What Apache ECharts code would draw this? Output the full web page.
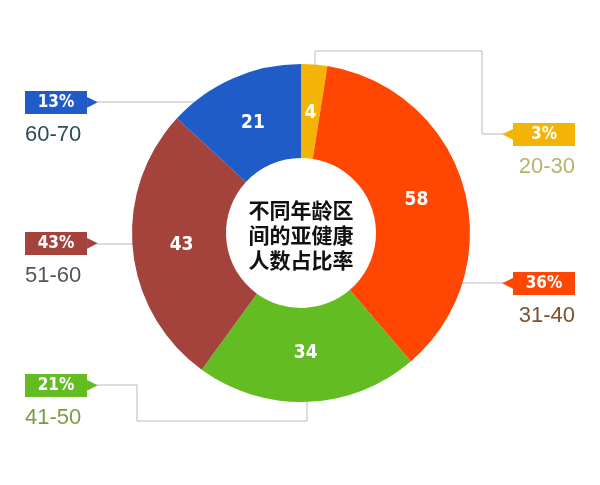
<!DOCTYPE html>
<html>
<head>
<meta charset="utf-8">
<script src="https://cdn.jsdelivr.net/npm/echarts@6/dist/echarts.min.js"></script>
<style>
  html, body { margin: 0; padding: 0; background: #fff; }
  #chart { width: 600px; height: 485px; }
</style>
</head>
<body>
<div id="chart"></div>
<script>
// age groups, clockwise from the top
const ageGroups = ['20-30', '31-40', '41-50', '51-60', '60-70'];
const counts = [4, 58, 34, 43, 21];
const percentLabels = ['3%', '36%', '21%', '43%', '13%'];
const sliceColors = ['#f4b406', '#ff4603', '#63bd22', '#a4433b', '#1f5cc8'];
const ageColors = ['#b4b66c', '#7b5232', '#7d9b45', '#555555', '#2f4a58'];
const centerTitle = '不同年龄区\n间的亚健康\n人数占比率';

// where each tag sits and how its leader line runs
const tagLayout = [
  { side: 'right', x: 575, y: 123, line: [[315, 66], [315, 51], [482, 51], [482, 134], [507, 134]] },
  { side: 'right', x: 575, y: 272, line: [[462, 283], [507, 283]] },
  { side: 'left', x: 25, y: 374, line: [[307, 401], [307, 421], [137, 421], [137, 385], [97, 385]] },
  { side: 'left', x: 25, y: 232, line: [[133, 244], [97, 244]] },
  { side: 'left', x: 25, y: 91, line: [[194, 102], [97, 102]] }
];

const narrow = '"Liberation Sans Narrow", "DejaVu Sans Condensed", sans-serif';

let rich = {};
ageGroups.forEach((g, i) => {
  rich['b' + i] = {
    backgroundColor: sliceColors[i], color: '#fff', fontFamily: narrow,
    fontWeight: 'bold', fontSize: 17, width: 62, height: 23, lineHeight: 23, align: 'center'
  };
  rich['a' + i] = { color: sliceColors[i], fontFamily: 'DejaVu Sans', fontSize: 14, lineHeight: 23 };
  rich['t' + i] = { color: ageColors[i], fontFamily: '"Liberation Sans", Arial, sans-serif', fontSize: 22, lineHeight: 42 };
});

const chart = echarts.init(document.getElementById('chart'));

const option = {
  backgroundColor: '#fff',
  animation: false,
  graphic: [{
    type: 'text',
    x: 301, y: 235,
    style: {
      text: centerTitle,
      align: 'center', verticalAlign: 'middle',
      fill: '#111',
      font: 'bold 21px "Noto Sans CJK SC"',
      lineHeight: 25
    }
  }],
  series: [
    {
      type: 'pie',
      center: [301, 233],
      radius: [75, 169],
      startAngle: 90,
      clockwise: true,
      avoidLabelOverlap: false,
      silent: true,
      color: sliceColors,
      data: ageGroups.map((g, i) => ({ name: g, value: counts[i] })),
      label: {
        show: true,
        position: 'outside',
        formatter: p => {
          const i = p.dataIndex;
          if (tagLayout[i].side === 'left') {
            return `{b${i}|${percentLabels[i]}}{a${i}|▶}\n{t${i}|${ageGroups[i]}}`;
          }
          return `{a${i}|◀}{b${i}|${percentLabels[i]}}\n{t${i}|${ageGroups[i]}}`;
        },
        rich: rich
      },
      labelLine: { show: true, lineStyle: { color: '#b9b9b9', width: 1 } },
      labelLayout: p => {
        const t = tagLayout[p.dataIndex];
        return {
          x: t.x, y: t.y,
          align: t.side === 'left' ? 'left' : 'right',
          verticalAlign: 'top',
          labelLinePoints: t.line
        };
      }
    },
    {
      // transparent copy, only carries the value labels a bit nearer the hole
      type: 'pie',
      center: [301, 233],
      radius: [65, 169],
      startAngle: 90,
      clockwise: true,
      silent: true,
      itemStyle: { color: 'rgba(0,0,0,0)' },
      data: ageGroups.map((g, i) => ({ name: g, value: counts[i] })),
      label: {
        show: true,
        position: 'inside',
        formatter: '{c}',
        color: '#fff',
        fontFamily: narrow,
        fontWeight: 'bold',
        fontSize: 19
      },
      labelLine: { show: false }
    }
  ]
};

option && chart.setOption(option);
</script>
</body>
</html>
